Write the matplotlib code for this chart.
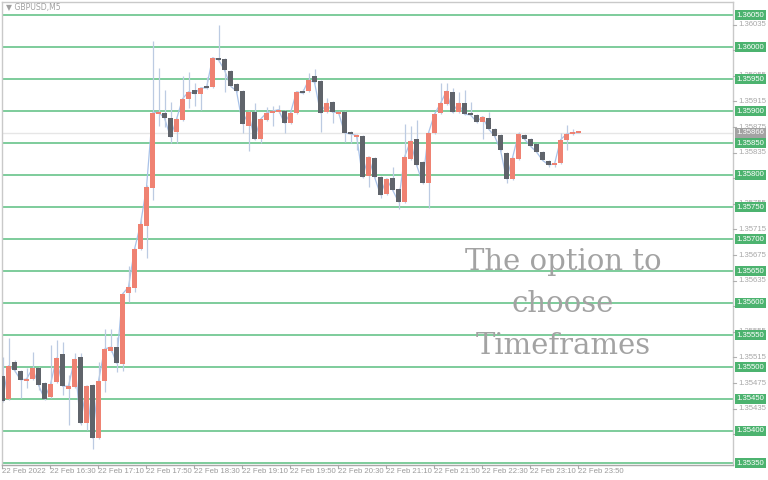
import matplotlib
matplotlib.use("Agg")
import matplotlib.pyplot as plt
import matplotlib.transforms as mtransforms
import numpy as np

# ---------------- data (GBPUSD M5, 22 Feb 2022, from 15:50) ----------------
opens = [1.35486, 1.35450, 1.35508, 1.35494, 1.35478, 1.35481, 1.35498, 1.35475, 1.35453, 1.35477,
         1.35520, 1.35466, 1.35469, 1.35516, 1.35412, 1.35472, 1.35389, 1.35478, 1.35525, 1.35531,
         1.35505, 1.35616, 1.35623, 1.35684, 1.35720, 1.35780, 1.35895, 1.35897, 1.35889, 1.35867,
         1.35886, 1.35919, 1.35933, 1.35927, 1.35938, 1.35938, 1.35983, 1.35981, 1.35962, 1.35942,
         1.35931, 1.35877, 1.35898, 1.35856, 1.35886, 1.35897, 1.35898, 1.35900, 1.35881, 1.35897,
         1.35930, 1.35931, 1.35955, 1.35947, 1.35898, 1.35914, 1.35895, 1.35898, 1.35867, 1.35859,
         1.35861, 1.35798, 1.35827, 1.35797, 1.35770, 1.35795, 1.35778, 1.35758, 1.35825, 1.35856,
         1.35820, 1.35788, 1.35866, 1.35897, 1.35911, 1.35930, 1.35898, 1.35912, 1.35897, 1.35894,
         1.35883, 1.35889, 1.35872, 1.35862, 1.35834, 1.35794, 1.35825, 1.35862, 1.35856, 1.35848,
         1.35836, 1.35822, 1.35816, 1.35819, 1.35855, 1.35864, 1.35866]
highs = [1.35516, 1.35545, 1.35511, 1.35495, 1.35498, 1.35523, 1.35500, 1.35477, 1.35534, 1.35542,
         1.35539, 1.35487, 1.35522, 1.35522, 1.35472, 1.35473, 1.35508, 1.35559, 1.35559, 1.35547,
         1.35617, 1.35658, 1.35686, 1.35734, 1.35784, 1.36009, 1.35967, 1.35933, 1.35914, 1.35889,
         1.35955, 1.35961, 1.35944, 1.35938, 1.35953, 1.35984, 1.36034, 1.35983, 1.35964, 1.35944,
         1.35933, 1.35900, 1.35912, 1.35889, 1.35906, 1.35908, 1.35909, 1.35902, 1.35898, 1.35931,
         1.35934, 1.35959, 1.35966, 1.35948, 1.35920, 1.35916, 1.35900, 1.35900, 1.35869, 1.35864,
         1.35862, 1.35830, 1.35828, 1.35798, 1.35795, 1.35812, 1.35780, 1.35880, 1.35877, 1.35886,
         1.35822, 1.35867, 1.35897, 1.35944, 1.35944, 1.35936, 1.35930, 1.35933, 1.35914, 1.35895,
         1.35892, 1.35898, 1.35873, 1.35864, 1.35836, 1.35828, 1.35867, 1.35864, 1.35858, 1.35850,
         1.35838, 1.35823, 1.35819, 1.35866, 1.35878, 1.35872, 1.35867]
lows = [1.35445, 1.35448, 1.35492, 1.35452, 1.35467, 1.35480, 1.35464, 1.35448, 1.35452, 1.35475,
        1.35456, 1.35409, 1.35467, 1.35409, 1.35402, 1.35372, 1.35388, 1.35461, 1.35523, 1.35492,
        1.35494, 1.35602, 1.35617, 1.35683, 1.35670, 1.35761, 1.35877, 1.35875, 1.35850, 1.35850,
        1.35884, 1.35905, 1.35908, 1.35902, 1.35934, 1.35936, 1.35977, 1.35930, 1.35938, 1.35930,
        1.35866, 1.35838, 1.35855, 1.35850, 1.35884, 1.35877, 1.35897, 1.35866, 1.35880, 1.35895,
        1.35927, 1.35930, 1.35944, 1.35867, 1.35897, 1.35881, 1.35894, 1.35852, 1.35850, 1.35839,
        1.35795, 1.35781, 1.35795, 1.35764, 1.35769, 1.35775, 1.35747, 1.35756, 1.35823, 1.35814,
        1.35786, 1.35748, 1.35864, 1.35895, 1.35909, 1.35897, 1.35897, 1.35894, 1.35892, 1.35881,
        1.35856, 1.35870, 1.35859, 1.35838, 1.35788, 1.35792, 1.35823, 1.35855, 1.35844, 1.35834,
        1.35822, 1.35812, 1.35812, 1.35817, 1.35839, 1.35862, 1.35865]
closes = [1.35447, 1.35502, 1.35495, 1.35480, 1.35481, 1.35498, 1.35472, 1.35450, 1.35473, 1.35514,
          1.35470, 1.35470, 1.35512, 1.35412, 1.35470, 1.35389, 1.35478, 1.35528, 1.35531, 1.35506,
          1.35614, 1.35625, 1.35684, 1.35723, 1.35781, 1.35897, 1.35898, 1.35889, 1.35859, 1.35887,
          1.35919, 1.35930, 1.35927, 1.35936, 1.35936, 1.35983, 1.35980, 1.35964, 1.35939, 1.35931,
          1.35880, 1.35898, 1.35856, 1.35887, 1.35897, 1.35900, 1.35902, 1.35881, 1.35897, 1.35930,
          1.35928, 1.35948, 1.35945, 1.35897, 1.35912, 1.35898, 1.35898, 1.35866, 1.35864, 1.35862,
          1.35797, 1.35828, 1.35797, 1.35769, 1.35794, 1.35777, 1.35758, 1.35828, 1.35853, 1.35816,
          1.35788, 1.35866, 1.35895, 1.35912, 1.35931, 1.35898, 1.35912, 1.35895, 1.35894, 1.35883,
          1.35891, 1.35872, 1.35861, 1.35839, 1.35794, 1.35827, 1.35864, 1.35856, 1.35845, 1.35836,
          1.35823, 1.35816, 1.35817, 1.35855, 1.35864, 1.35866, 1.35866]

current_price = 1.35866
level_prices = [1.36050, 1.36000, 1.35950, 1.35900, 1.35850, 1.35800, 1.35750, 1.35700,
                1.35650, 1.35600, 1.35550, 1.35500, 1.35450, 1.35400, 1.35350]
axis_prices = [1.36035, 1.35995, 1.35955, 1.35915, 1.35875, 1.35835, 1.35795, 1.35755,
               1.35715, 1.35675, 1.35635, 1.35595, 1.35555, 1.35515, 1.35475, 1.35435, 1.35395]
time_tick_bars = [0, 8, 16, 24, 32, 40, 48, 56, 64, 72, 80, 88, 96]
time_tick_labels = ["22 Feb 2022", "22 Feb 16:30", "22 Feb 17:10", "22 Feb 17:50", "22 Feb 18:30",
                    "22 Feb 19:10", "22 Feb 19:50", "22 Feb 20:30", "22 Feb 21:10", "22 Feb 21:50",
                    "22 Feb 22:30", "22 Feb 23:10", "22 Feb 23:50"]
symbol_label = "\u25BC GBPUSD,M5"
overlay_text = "The option to\nchoose\nTimeframes"

# ---------------- styling ----------------
W, H = 768, 480
BULL = "#ef8272"
BEAR = "#60646b"
WICK = "#bccbe2"
CLOSE_LINE = "#a9c2e8"
GREEN_LINE = "#7dcc9b"
GREEN_BOX = "#4cb36f"
SMALL_FONT = ["Liberation Sans", "DejaVu Sans"]

fig = plt.figure(figsize=(W / 100, H / 100), dpi=100)
fig.patch.set_facecolor("white")

# plot area in pixels: x 2..733, y 2..465 (from top)
px_l, px_r, px_t, px_b = 2, 733, 2, 465
ax = fig.add_axes([px_l / W, 1 - px_b / H, (px_r - px_l) / W, (px_b - px_t) / H])
bar_px = 6.0
x0 = (px_l - 2.5) / bar_px
ax.set_xlim(x0, x0 + (px_r - px_l) / bar_px)
ppx = 0.0005 / 32.0  # price per pixel
ax.set_ylim(1.36050 - (px_b - 15) * ppx, 1.36050 + (15 - px_t) * ppx)

for s in ax.spines.values():
    s.set_color("#c9c9c9")
    s.set_linewidth(1.0)
ax.spines["bottom"].set_color("#a8a8a8")
ax.set_xticks([])
ax.set_yticks([])

o = np.array(opens); h = np.array(highs); l = np.array(lows); c = np.array(closes)
xs = np.arange(len(o))

# horizontal levels
for p in level_prices:
    ax.axhline(p, color=GREEN_LINE, lw=1.4, zorder=1)
ax.axhline(current_price, color="#e6e6e6", lw=1.0, zorder=1)

# close line and wicks
ax.plot(xs, c, color=CLOSE_LINE, lw=0.9, zorder=2)
ax.vlines(xs, l, h, color=WICK, lw=0.9, zorder=2)

# bodies
bull = c >= o
colors = np.where(bull, BULL, BEAR)
bottoms = np.minimum(o, c)
heights = np.maximum(np.abs(c - o), 1.6 * ppx)
ax.bar(xs, heights, bottom=bottoms, width=5.0 / bar_px, color=colors, linewidth=0, zorder=3)

# ---------------- right price axis ----------------
trans_r = mtransforms.blended_transform_factory(fig.transFigure, ax.transData)
for p in axis_prices:
    ax.plot([px_r / W, (px_r + 3) / W], [p, p], color="#b0b0b0", lw=0.8,
            transform=trans_r, clip_on=False, zorder=4)
    ax.text((px_r + 5) / W, p, f"{p:.5f}", transform=trans_r, fontsize=5.6, family=SMALL_FONT,
            color="#a8a8a8", va="center", ha="left", clip_on=False, zorder=4)
for p in level_prices:
    ax.text((px_r + 17.5) / W, p, f"{p:.5f}", transform=trans_r, fontsize=5.6, family=SMALL_FONT,
            color="white", va="center", ha="center", clip_on=False, zorder=6,
            bbox=dict(boxstyle="square,pad=0.22", fc=GREEN_BOX, ec="none"))
ax.text((px_r + 17.5) / W, current_price, f"{current_price:.5f}", transform=trans_r, fontsize=5.6,
        family=SMALL_FONT, color="white", va="center", ha="center", clip_on=False, zorder=5,
        bbox=dict(boxstyle="square,pad=0.22", fc="#a3a3a3", ec="none"))

# ---------------- bottom time axis ----------------
trans_b = mtransforms.blended_transform_factory(ax.transData, fig.transFigure)
for b, lab in zip(time_tick_bars, time_tick_labels):
    xb = b - 0.08
    ax.plot([xb, xb], [1 - px_b / H, 1 - (px_b + 3) / H], color="#a8a8a8", lw=0.8,
            transform=trans_b, clip_on=False)
    ax.text(xb + 0.05, 1 - 471.5 / H, lab, transform=trans_b, fontsize=5.6, family=SMALL_FONT,
            color="#9a9a9a", va="center", ha="left", clip_on=False)

# ---------------- titles / overlay ----------------
fig.text(6 / W, 1 - 7.5 / H, symbol_label, fontsize=5.6, family=["DejaVu Sans"], color="#a0a0a0",
         va="center", ha="left")

ax.text(563 / W, 1 - 304 / H, overlay_text, transform=fig.transFigure, fontsize=21,
        family="DejaVu Serif", color="#a3a3a3", ha="center", va="center",
        linespacing=1.62, zorder=7)

fig.savefig("out.png", dpi=100, facecolor="white")
